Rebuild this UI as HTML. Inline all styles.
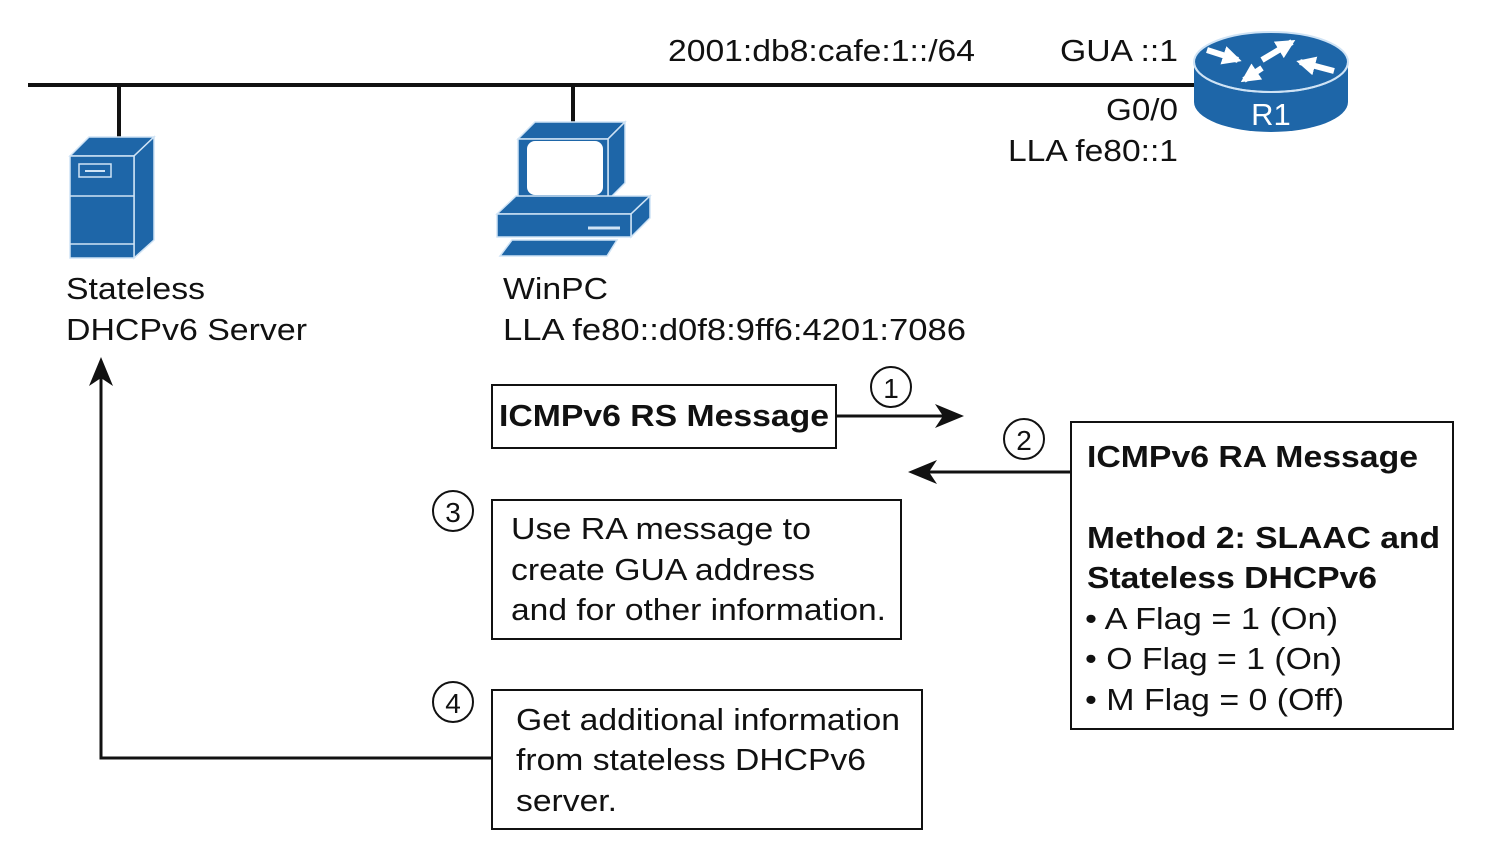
<!DOCTYPE html>
<html><head><meta charset="utf-8"><style>
html,body{margin:0;padding:0;background:#fff;}
svg{display:block;}
text{font-family:"Liberation Sans",Arial,sans-serif;fill:#111;}
</style></head><body>
<svg width="1490" height="848" viewBox="0 0 1490 848" xmlns="http://www.w3.org/2000/svg">
<defs>
<marker id="wa" viewBox="0 0 10 10" refX="8" refY="5" markerWidth="3.2" markerHeight="3.2" orient="auto">
<path d="M0,0 L10,5 L0,10 Z" fill="#fff"/></marker>
</defs>
<!-- network line -->
<line x1="28" y1="85" x2="1200" y2="85" stroke="#111" stroke-width="4"/>
<line x1="119" y1="85" x2="119" y2="137" stroke="#111" stroke-width="4"/>
<line x1="573" y1="85" x2="573" y2="122" stroke="#111" stroke-width="4"/>
<text x="668" y="61" font-size="31" textLength="307" lengthAdjust="spacingAndGlyphs">2001:db8:cafe:1::/64</text>
<text x="1060" y="61" font-size="31" textLength="118" lengthAdjust="spacingAndGlyphs">GUA ::1</text>
<text x="1106" y="120" font-size="31" textLength="72" lengthAdjust="spacingAndGlyphs">G0/0</text>
<text x="1008" y="161" font-size="31" textLength="170" lengthAdjust="spacingAndGlyphs">LLA fe80::1</text>

<!-- router -->
<g>
<path d="M1194 62 L1194 102 A77 30 0 0 0 1348 102 L1348 62 Z" fill="#1e66a8"/>
<ellipse cx="1271" cy="62" rx="77" ry="30" fill="#1e66a8" stroke="#cfe3f5" stroke-width="2"/>
<path d="M1194 62 A77 30 0 0 0 1348 62" fill="none" stroke="#cfe3f5" stroke-width="2"/>
<g stroke="#fff" stroke-width="6" marker-end="url(#wa)">
<line x1="1207" y1="50" x2="1238" y2="60"/>
<line x1="1262" y1="60" x2="1292" y2="42"/>
<line x1="1334" y1="71" x2="1300" y2="62"/>
<line x1="1262" y1="68" x2="1244" y2="80"/>
</g>
<text x="1271" y="125" font-size="31" text-anchor="middle" style="fill:#fff">R1</text>
</g>

<!-- server -->
<g stroke="#cfe3f5" stroke-width="1.5">
<polygon points="70,156 89,137 154,137 134,156" fill="#1e66a8"/>
<polygon points="134,156 154,137 154,240 134,258" fill="#1e66a8"/>
<rect x="70" y="156" width="64" height="102" fill="#1e66a8"/>
<rect x="79" y="164" width="32" height="13" fill="none"/>
<line x1="70" y1="196" x2="134" y2="196"/>
<line x1="70" y1="244" x2="134" y2="244"/>
</g>
<line x1="85" y1="171" x2="105" y2="171" stroke="#cfe3f5" stroke-width="2"/>

<!-- PC -->
<g stroke="#cfe3f5" stroke-width="1.5" fill="#1e66a8">
<polygon points="518,139 535,122 625,122 608,139"/>
<polygon points="608,139 625,122 625,183 608,200"/>
<rect x="518" y="139" width="90" height="61"/>
<polygon points="497,214 516,196 650,196 631,214"/>
<polygon points="631,214 650,196 650,218 631,237"/>
<rect x="497" y="214" width="134" height="23"/>
<polygon points="500,256 512,240 617,240 607,256"/>
</g>
<rect x="527" y="141" width="76" height="54" rx="8" fill="#fff"/>
<line x1="588" y1="228" x2="620" y2="228" stroke="#cfe3f5" stroke-width="3"/>

<text x="66" y="299" font-size="31" textLength="139" lengthAdjust="spacingAndGlyphs">Stateless</text>
<text x="66" y="340" font-size="31" textLength="241" lengthAdjust="spacingAndGlyphs">DHCPv6 Server</text>
<text x="503" y="299" font-size="31" textLength="105" lengthAdjust="spacingAndGlyphs">WinPC</text>
<text x="503" y="340" font-size="31" textLength="463" lengthAdjust="spacingAndGlyphs">LLA  fe80::d0f8:9ff6:4201:7086</text>

<!-- RS box -->
<rect x="492" y="385" width="344" height="63" fill="#fff" stroke="#111" stroke-width="2"/>
<text x="499" y="426" font-size="31" font-weight="bold" textLength="330" lengthAdjust="spacingAndGlyphs">ICMPv6 RS Message</text>
<line x1="836" y1="416" x2="945" y2="416" stroke="#111" stroke-width="3"/>
<polygon points="964,416 935,404 943,416 935,428" fill="#111"/>
<circle cx="891" cy="387" r="20" fill="none" stroke="#111" stroke-width="2"/>
<text x="891" y="398" font-size="28" text-anchor="middle">1</text>

<!-- RA box -->
<rect x="1071" y="422" width="382" height="307" fill="#fff" stroke="#111" stroke-width="2"/>
<text x="1087" y="467" font-size="31" font-weight="bold" textLength="331" lengthAdjust="spacingAndGlyphs">ICMPv6 RA Message</text>
<text x="1087" y="548" font-size="31" font-weight="bold" textLength="353" lengthAdjust="spacingAndGlyphs">Method 2: SLAAC and</text>
<text x="1087" y="588" font-size="31" font-weight="bold" textLength="290" lengthAdjust="spacingAndGlyphs">Stateless DHCPv6</text>
<text x="1085" y="629" font-size="31" textLength="253" lengthAdjust="spacingAndGlyphs">• A Flag = 1 (On)</text>
<text x="1085" y="669" font-size="31" textLength="257" lengthAdjust="spacingAndGlyphs">• O Flag = 1 (On)</text>
<text x="1085" y="710" font-size="31" textLength="259" lengthAdjust="spacingAndGlyphs">• M Flag = 0 (Off)</text>
<line x1="1071" y1="472" x2="928" y2="472" stroke="#111" stroke-width="3"/>
<polygon points="908,472 937,460 929,472 937,484" fill="#111"/>
<circle cx="1024" cy="439" r="20" fill="none" stroke="#111" stroke-width="2"/>
<text x="1024" y="450" font-size="28" text-anchor="middle">2</text>

<!-- step 3 -->
<rect x="492" y="500" width="409" height="139" fill="#fff" stroke="#111" stroke-width="2"/>
<text x="511" y="539" font-size="31" textLength="300" lengthAdjust="spacingAndGlyphs">Use RA message to</text>
<text x="511" y="580" font-size="31" textLength="304" lengthAdjust="spacingAndGlyphs">create GUA address</text>
<text x="511" y="620" font-size="31" textLength="375" lengthAdjust="spacingAndGlyphs">and for other information.</text>
<circle cx="453" cy="511" r="20" fill="none" stroke="#111" stroke-width="2"/>
<text x="453" y="522" font-size="28" text-anchor="middle">3</text>

<!-- step 4 -->
<rect x="492" y="690" width="430" height="139" fill="#fff" stroke="#111" stroke-width="2"/>
<text x="516" y="730" font-size="31" textLength="384" lengthAdjust="spacingAndGlyphs">Get additional information</text>
<text x="516" y="770" font-size="31" textLength="350" lengthAdjust="spacingAndGlyphs">from stateless DHCPv6</text>
<text x="516" y="811" font-size="31" textLength="101" lengthAdjust="spacingAndGlyphs">server.</text>
<circle cx="453" cy="702" r="20" fill="none" stroke="#111" stroke-width="2"/>
<text x="453" y="713" font-size="28" text-anchor="middle">4</text>

<polyline points="492,758 101,758 101,378" fill="none" stroke="#111" stroke-width="3"/>
<polygon points="101,357 89,386 101,378 113,386" fill="#111"/>
</svg>
</body></html>
